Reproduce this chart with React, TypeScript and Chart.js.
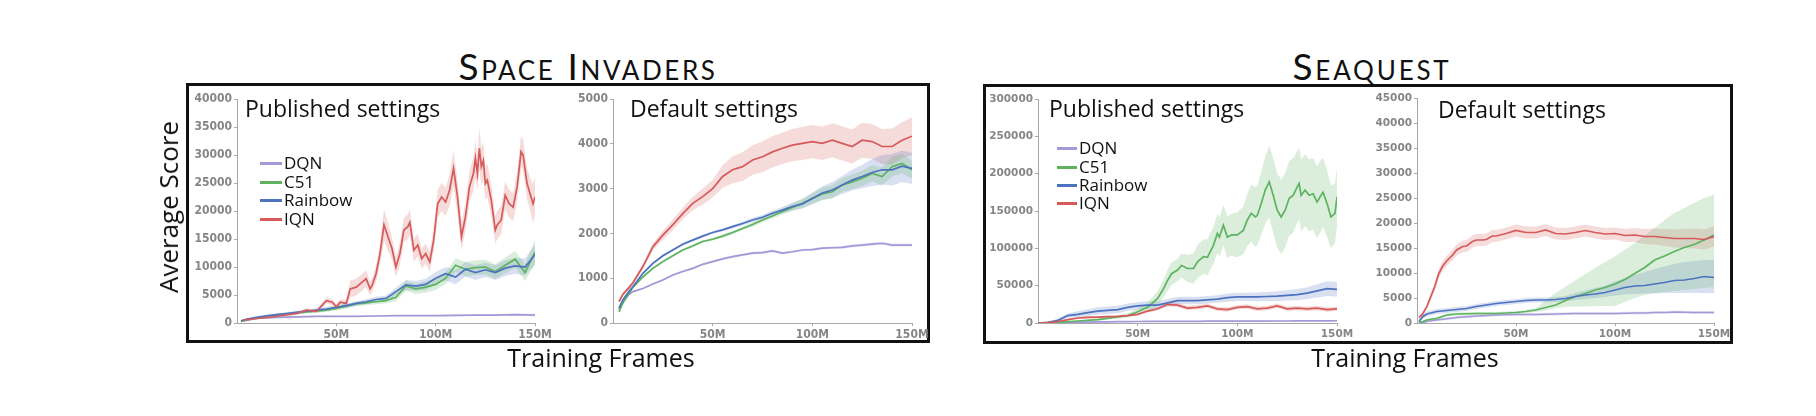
import React, { useEffect, useRef } from 'react';
import { Chart, registerables } from 'chart.js';

Chart.register(...registerables);

// ---------------- common ----------------
const SERIES_NAMES = ['DQN', 'C51', 'Rainbow', 'IQN'];
const SERIES_COLORS = ['#a498d8', '#5db35f', '#4c72c0', '#d65a5a'];
const X_TICKS = [50, 100, 150];
const X_TICK_LABELS = ['50M', '100M', '150M'];

// ---------------- Space Invaders, published settings ----------------
const P1_YTICKS = [0, 5000, 10000, 15000, 20000, 25000, 30000, 35000, 40000];
const P1_X_DQN = [2, 10, 20, 30, 40, 50, 60, 70, 80, 90, 100, 110, 120, 130, 140, 150];
const P1_DQN = [300, 800, 1000, 1100, 1200, 1200, 1200, 1250, 1300, 1300, 1300, 1350, 1400, 1400, 1500, 1400];
const P1_DQN_SD = [100, 150, 150, 150, 150, 150, 150, 150, 150, 150, 150, 150, 150, 150, 200, 200];
const P1_X = [2, 5, 10, 15, 20, 25, 30, 35, 40, 45, 50, 55, 60, 65, 70, 75, 80, 85, 90, 95, 100, 105, 110, 115, 120, 125, 130, 135, 140, 145, 150];
const P1_C51 = [300, 600, 900, 1200, 1400, 1600, 1800, 2000, 2100, 2300, 2600, 3000, 3400, 3600, 3800, 4000, 4600, 6600, 6100, 6400, 6900, 8000, 10300, 9600, 9900, 10000, 9200, 10300, 11400, 9000, 12700];
const P1_C51_SD = [100, 150, 200, 200, 250, 250, 300, 300, 300, 300, 350, 400, 400, 400, 450, 500, 700, 900, 900, 1000, 1000, 1100, 1200, 1300, 1300, 1300, 1300, 1400, 1500, 1500, 2200];
const P1_RAIN = [400, 700, 1000, 1300, 1500, 1700, 1900, 2100, 2300, 2500, 2800, 3100, 3500, 3800, 4200, 4400, 5600, 6800, 6600, 6900, 8000, 8800, 8200, 9600, 9000, 9500, 9000, 9800, 10200, 10000, 12200];
const P1_RAIN_SD = [100, 150, 200, 200, 250, 250, 300, 300, 300, 350, 350, 400, 400, 450, 500, 500, 700, 900, 900, 1000, 1100, 1200, 1300, 1300, 1300, 1300, 1300, 1400, 1400, 1500, 1800];
const P1_X_IQN = [3, 10, 20, 30, 35, 40, 45, 48, 50, 52, 55, 57, 60, 63, 65, 67, 68, 70, 72, 74, 76, 78, 80, 82, 84, 86, 87, 89, 91, 93, 95, 97, 99, 101, 103, 105, 107, 109, 111, 113, 115, 117, 119, 120, 121, 122, 123, 124, 125, 126, 128, 130, 131, 133, 135, 137, 139, 141, 143, 144, 146, 148, 149, 150];
const P1_IQN = [500, 800, 1200, 1700, 2300, 2100, 4000, 3700, 2900, 3700, 3500, 6100, 6400, 7300, 7900, 6100, 6700, 8800, 12400, 17500, 15400, 13300, 10000, 12400, 16600, 17200, 18000, 13000, 13900, 11500, 12400, 10900, 14800, 21300, 22500, 21600, 23700, 27600, 22500, 15400, 19000, 24300, 26700, 29400, 26700, 31200, 27900, 29000, 24900, 25500, 21900, 16600, 17500, 18400, 22800, 21300, 20700, 24300, 30600, 30000, 24900, 22500, 21300, 22500];
const P1_IQN_SD = [100, 150, 200, 250, 300, 300, 500, 500, 500, 500, 600, 1500, 1500, 1500, 1500, 1200, 1200, 1500, 2000, 2800, 2500, 2000, 1800, 2000, 2200, 2200, 2300, 2000, 2000, 1800, 1800, 1800, 2000, 2500, 2500, 2500, 2800, 3200, 3000, 2500, 2500, 2800, 3000, 3300, 3200, 3700, 3300, 3300, 3000, 3000, 2800, 2500, 2500, 2500, 2500, 2500, 2500, 2700, 2800, 2800, 2800, 3000, 3500, 3500];

// ---------------- Space Invaders, default settings ----------------
const P2_YTICKS = [0, 1000, 2000, 3000, 4000, 5000];
const P2_X = [3, 5, 8, 10, 15, 20, 25, 30, 35, 40, 45, 50, 55, 60, 65, 70, 75, 80, 85, 90, 95, 100, 105, 110, 115, 120, 125, 130, 135, 140, 145, 150];
const P2_DQN = [300, 480, 640, 700, 770, 870, 960, 1070, 1150, 1220, 1310, 1370, 1430, 1480, 1520, 1560, 1570, 1610, 1560, 1590, 1630, 1640, 1670, 1680, 1690, 1720, 1740, 1760, 1780, 1740, 1740, 1740];
const P2_DQN_SD = [25, 25, 25, 25, 25, 25, 25, 25, 25, 25, 25, 25, 30, 30, 30, 30, 30, 30, 30, 30, 30, 30, 30, 30, 30, 35, 35, 35, 35, 35, 35, 35];
const P2_C51 = [250, 450, 650, 800, 1030, 1220, 1370, 1500, 1630, 1720, 1820, 1870, 1940, 2020, 2110, 2200, 2300, 2390, 2490, 2580, 2670, 2780, 2880, 2930, 3080, 3150, 3230, 3340, 3270, 3490, 3560, 3420];
const P2_C51_SD = [30, 30, 30, 30, 30, 30, 30, 30, 30, 30, 30, 30, 40, 40, 40, 50, 50, 60, 70, 80, 100, 120, 140, 150, 150, 160, 170, 180, 200, 220, 220, 200];
const P2_RAIN = [330, 520, 700, 810, 1110, 1330, 1500, 1630, 1760, 1850, 1940, 2020, 2080, 2150, 2220, 2300, 2360, 2450, 2520, 2600, 2660, 2780, 2900, 2970, 3080, 3190, 3270, 3360, 3420, 3420, 3500, 3450];
const P2_RAIN_SD = [30, 30, 30, 30, 30, 30, 30, 30, 30, 30, 30, 30, 30, 40, 40, 50, 50, 60, 70, 90, 110, 130, 150, 180, 200, 230, 260, 300, 330, 350, 350, 350];
const P2_IQN = [480, 640, 790, 900, 1260, 1700, 1960, 2190, 2440, 2670, 2820, 3000, 3270, 3420, 3490, 3640, 3710, 3820, 3900, 3970, 4010, 4050, 4010, 4080, 4010, 3940, 4080, 4050, 3940, 3940, 4080, 4170];
const P2_IQN_SD = [40, 40, 40, 50, 60, 80, 100, 120, 130, 150, 180, 200, 250, 300, 320, 330, 340, 350, 350, 360, 370, 370, 370, 380, 380, 380, 390, 390, 390, 400, 400, 420];

// ---------------- Seaquest, published settings ----------------
const P3_YTICKS = [0, 50000, 100000, 150000, 200000, 250000, 300000];
const P3_X = [0, 5, 10, 15, 20, 25, 30, 35, 40, 45, 50, 55, 60, 65, 70, 75, 80, 85, 90, 95, 100, 105, 110, 115, 120, 125, 130, 135, 140, 145, 150];
const P3_DQN = [0, 400, 800, 1000, 1200, 1300, 1500, 1600, 1800, 1900, 2000, 2100, 2100, 2200, 2200, 2300, 2300, 2400, 2400, 2500, 2500, 2500, 2600, 2600, 2700, 2700, 2800, 2800, 2900, 2900, 3000];
const P3_DQN_SD = [0, 200, 300, 400, 400, 500, 500, 500, 500, 500, 500, 500, 500, 500, 500, 500, 500, 500, 500, 500, 500, 500, 500, 500, 500, 500, 500, 500, 500, 500, 500];
const P3_RAIN = [0, 1000, 3600, 10000, 11600, 14000, 16000, 17000, 18000, 21000, 23000, 24000, 24000, 27000, 30000, 30000, 30000, 31000, 32000, 34000, 35000, 35000, 35000, 35500, 36000, 37000, 38000, 40000, 43000, 46000, 45000];
const P3_RAIN_SD = [0, 800, 2000, 3000, 4000, 4500, 5000, 5000, 5000, 5000, 5000, 5000, 5000, 5000, 5000, 5000, 5000, 5000, 5000, 5500, 5500, 5500, 6000, 6000, 6500, 7000, 7500, 8000, 9000, 10000, 10000];
const P3_IQN = [0, 500, 2000, 4500, 6700, 7500, 8000, 8500, 9000, 10000, 11600, 16000, 19000, 25000, 24000, 20000, 21000, 23000, 19000, 18000, 21000, 22000, 19000, 20000, 23000, 19000, 20000, 19000, 20000, 18000, 19000];
const P3_IQN_SD = [0, 300, 800, 1000, 1500, 1500, 1500, 1500, 1500, 1500, 1500, 2000, 2500, 3000, 3000, 3000, 3000, 3000, 3000, 3000, 3000, 3000, 3000, 3000, 3000, 3000, 3000, 3000, 3000, 3000, 3000];
const P3_X_C51 = [0, 10, 20, 30, 40, 45, 50, 55, 60, 63, 65, 67, 70, 72, 75, 78, 80, 83, 85, 88, 90, 91, 93, 95, 97, 100, 103, 105, 107, 109, 110, 112, 114, 116, 118, 120, 122, 124, 126, 128, 130, 131, 132, 134, 136, 138, 140, 142, 143, 145, 147, 149, 150];
const P3_C51 = [0, 1000, 2700, 4500, 8000, 10000, 15000, 21000, 33000, 46000, 57000, 66000, 71000, 77000, 73000, 73000, 82000, 89000, 88000, 104000, 120000, 115000, 131000, 115000, 118000, 118000, 124000, 138000, 147000, 142000, 144000, 160000, 178000, 189000, 171000, 151000, 142000, 151000, 167000, 171000, 182000, 187000, 171000, 178000, 171000, 173000, 162000, 171000, 175000, 160000, 142000, 147000, 169000];
const P3_C51_SD = [0, 500, 1000, 1500, 2000, 3000, 4000, 6000, 10000, 12000, 14000, 15000, 15000, 16000, 18000, 20000, 22000, 23000, 24000, 25000, 26000, 26000, 27000, 28000, 28000, 30000, 32000, 35000, 38000, 40000, 40000, 42000, 45000, 48000, 50000, 50000, 50000, 50000, 50000, 50000, 48000, 48000, 48000, 48000, 48000, 48000, 48000, 48000, 46000, 45000, 42000, 40000, 40000];

// ---------------- Seaquest, default settings ----------------
const P4_YTICKS = [0, 5000, 10000, 15000, 20000, 25000, 30000, 35000, 40000, 45000];
const P4_X = [1, 3, 5, 8, 10, 15, 20, 25, 30, 35, 40, 45, 50, 55, 60, 65, 70, 75, 80, 85, 90, 95, 100, 105, 110, 115, 120, 125, 130, 135, 140, 145, 150];
const P4_DQN = [0, 100, 300, 500, 600, 850, 1100, 1250, 1400, 1500, 1600, 1650, 1700, 1700, 1700, 1750, 1800, 1850, 1900, 1900, 1900, 1900, 1900, 1950, 2000, 2000, 2100, 2100, 2200, 2150, 2100, 2100, 2100];
const P4_DQN_SD = [50, 100, 150, 200, 250, 300, 300, 300, 300, 300, 300, 300, 300, 300, 300, 300, 300, 300, 300, 300, 300, 300, 300, 300, 300, 300, 300, 300, 300, 300, 300, 300, 300];
const P4_C51 = [70, 300, 600, 800, 900, 1600, 1800, 1850, 1900, 1900, 1900, 2000, 2100, 2300, 2600, 3100, 3600, 4500, 5300, 5900, 6600, 7100, 7800, 8700, 9900, 11100, 12600, 13400, 14300, 15100, 15700, 16600, 17600];
const P4_C51_LO = [0, 100, 300, 500, 600, 1300, 1500, 1550, 1600, 1600, 1600, 1700, 1800, 2000, 2200, 2500, 3000, 3200, 3300, 3300, 3400, 3400, 3400, 4200, 5000, 5600, 6000, 6200, 6400, 6600, 6800, 7000, 7200];
const P4_C51_HI = [150, 500, 900, 1100, 1200, 1900, 2100, 2150, 2200, 2200, 2200, 2300, 2400, 2600, 3000, 4500, 6000, 7300, 8500, 9800, 11000, 12200, 13300, 14700, 16000, 17500, 19000, 20600, 22000, 23000, 24000, 25000, 25700];
const P4_RAIN = [300, 1300, 1800, 2100, 2300, 2500, 2700, 2900, 3300, 3600, 3900, 4100, 4300, 4500, 4600, 4600, 4700, 4900, 5300, 5600, 5800, 6100, 6600, 7100, 7400, 7500, 7800, 8100, 8500, 8600, 8900, 9300, 9100];
const P4_RAIN_LO = [0, 900, 1300, 1600, 1800, 2000, 2200, 2400, 2800, 3100, 3400, 3600, 3800, 4000, 4100, 4100, 4200, 4400, 4600, 4800, 5000, 5200, 5500, 5700, 5800, 5900, 5900, 6000, 6000, 6000, 6000, 6000, 6000];
const P4_RAIN_HI = [600, 1700, 2300, 2600, 2800, 3000, 3200, 3400, 3800, 4100, 4400, 4600, 4800, 5000, 5100, 5100, 5200, 5400, 6000, 6500, 7000, 7500, 8300, 9000, 9600, 10200, 10800, 11300, 11800, 12200, 12400, 12600, 12600];
const P4_X_IQN = [1, 3, 5, 7, 9, 11, 13, 15, 18, 20, 23, 25, 28, 30, 33, 35, 38, 40, 45, 50, 55, 60, 65, 70, 75, 80, 85, 90, 95, 100, 105, 110, 115, 120, 125, 130, 135, 140, 145, 150];
const P4_IQN = [1100, 1900, 3300, 5300, 7300, 9900, 11400, 12400, 13600, 14600, 15300, 15400, 16300, 16600, 16600, 16700, 17400, 17400, 17900, 18500, 18100, 18100, 18600, 17900, 17800, 18100, 18500, 18100, 17800, 17900, 17500, 17600, 17300, 17300, 17100, 16900, 16900, 16900, 16700, 17300];
const P4_IQN_SD = [300, 400, 500, 700, 800, 900, 1000, 1000, 1100, 1100, 1200, 1200, 1200, 1200, 1200, 1200, 1200, 1200, 1200, 1200, 1200, 1200, 1200, 1200, 1200, 1200, 1200, 1200, 1200, 1200, 1300, 1400, 1500, 1600, 1700, 1800, 1900, 2000, 2000, 2000];

// ---------------- helpers ----------------
type Series = { color: string; x: number[]; y: number[]; lo: number[]; hi: number[] };

const mk = (k: number, x: number[], y: number[], sd: number[]): Series => ({
  color: SERIES_COLORS[k],
  x,
  y,
  lo: y.map((v, i) => Math.max(0, v - sd[i])),
  hi: y.map((v, i) => v + sd[i]),
});
const mkLH = (k: number, x: number[], y: number[], lo: number[], hi: number[]): Series => ({
  color: SERIES_COLORS[k], x, y, lo, hi,
});

function alpha(hex: string, a: number) {
  const r = parseInt(hex.slice(1, 3), 16);
  const g = parseInt(hex.slice(3, 5), 16);
  const b = parseInt(hex.slice(5, 7), 16);
  return `rgba(${r},${g},${b},${a})`;
}

const PADL = 56;
const PADT = 10;
const PADR = 24;
const PADB = 24;

type PanelCfg = {
  left: number; right: number; top: number; bottom: number;
  yMax: number; yTicks: number[]; series: Series[];
  font: { family: string; size: number; weight: any };
};

const NARROW = { family: "'Liberation Sans Narrow', 'DejaVu Sans Condensed', sans-serif", size: 12, weight: 'bold' };
const WIDE = { family: "'DejaVu Sans', sans-serif", size: 10.5, weight: 'bold' };

const PANELS: PanelCfg[] = [
  {
    left: 237, right: 535, top: 99, bottom: 323, yMax: 40000, yTicks: P1_YTICKS, font: NARROW,
    series: [
      mk(0, P1_X_DQN, P1_DQN, P1_DQN_SD),
      mk(1, P1_X, P1_C51, P1_C51_SD),
      mk(2, P1_X, P1_RAIN, P1_RAIN_SD),
      mk(3, P1_X_IQN, P1_IQN, P1_IQN_SD),
    ],
  },
  {
    left: 613, right: 912, top: 99, bottom: 323, yMax: 5000, yTicks: P2_YTICKS, font: NARROW,
    series: [
      mk(0, P2_X, P2_DQN, P2_DQN_SD),
      mk(1, P2_X, P2_C51, P2_C51_SD),
      mk(2, P2_X, P2_RAIN, P2_RAIN_SD),
      mk(3, P2_X, P2_IQN, P2_IQN_SD),
    ],
  },
  {
    left: 1038, right: 1337, top: 99, bottom: 323, yMax: 300000, yTicks: P3_YTICKS, font: WIDE,
    series: [
      mk(0, P3_X, P3_DQN, P3_DQN_SD),
      mk(1, P3_X_C51, P3_C51, P3_C51_SD),
      mk(2, P3_X, P3_RAIN, P3_RAIN_SD),
      mk(3, P3_X, P3_IQN, P3_IQN_SD),
    ],
  },
  {
    left: 1417, right: 1714, top: 98, bottom: 323, yMax: 45000, yTicks: P4_YTICKS, font: WIDE,
    series: [
      mk(0, P4_X, P4_DQN, P4_DQN_SD),
      mkLH(1, P4_X, P4_C51, P4_C51_LO, P4_C51_HI),
      mkLH(2, P4_X, P4_RAIN, P4_RAIN_LO, P4_RAIN_HI),
      mk(3, P4_X_IQN, P4_IQN, P4_IQN_SD),
    ],
  },
];

function Panel({ cfg }: { cfg: PanelCfg }) {
  const ref = useRef<HTMLCanvasElement>(null);
  const w = cfg.right - cfg.left + PADL + PADR;
  const h = cfg.bottom - cfg.top + PADT + PADB;

  useEffect(() => {
    const ds: any[] = [];
    const ser = cfg.series;
    for (let k = ser.length - 1; k >= 0; k--) {
      const s = ser[k];
      ds.push({
        data: s.x.map((x, i) => ({ x, y: s.y[i] })),
        borderColor: s.color, borderWidth: 1.7, pointRadius: 0, fill: false,
        tension: 0, order: 0,
      });
    }
    for (const s of ser) {
      const loIdx = ds.length;
      ds.push({
        data: s.x.map((x, i) => ({ x, y: s.lo[i] })),
        borderWidth: 0, borderColor: 'rgba(0,0,0,0)', pointRadius: 0, fill: false, order: 1,
      });
      ds.push({
        data: s.x.map((x, i) => ({ x, y: s.hi[i] })),
        borderWidth: 0, borderColor: 'rgba(0,0,0,0)', pointRadius: 0,
        fill: loIdx, backgroundColor: alpha(s.color, 0.22), order: 1,
      });
    }
    const tickColor = '#858585';
    const axisColor = '#a8a8a8';
    const chart = new Chart(ref.current as HTMLCanvasElement, {
      type: 'line',
      data: { datasets: ds },
      options: {
        responsive: false,
        animation: false,
        devicePixelRatio: 1,
        events: [],
        layout: { padding: { left: 0, top: PADT, right: PADR, bottom: 0 } },
        plugins: { legend: { display: false }, tooltip: { enabled: false }, title: { display: false } },
        scales: {
          x: {
            type: 'linear', min: 0, max: 150,
            afterBuildTicks: (a: any) => { a.ticks = X_TICKS.map((v) => ({ value: v })); },
            afterFit: (a: any) => { a.height = PADB; },
            ticks: {
              autoSkip: false, maxRotation: 0, padding: 2, color: tickColor, font: cfg.font as any,
              callback: (v: any) => X_TICK_LABELS[X_TICKS.indexOf(Number(v))] ?? '',
            },
            grid: { drawOnChartArea: false, drawTicks: true, tickLength: 3, color: axisColor },
            border: { display: true, color: axisColor, width: 1 },
          },
          y: {
            type: 'linear', min: 0, max: cfg.yMax,
            afterBuildTicks: (a: any) => { a.ticks = cfg.yTicks.map((v) => ({ value: v })); },
            afterFit: (a: any) => { a.width = PADL; },
            ticks: {
              autoSkip: false, padding: 2, color: tickColor, font: cfg.font as any,
              callback: (v: any) => String(v),
            },
            grid: { drawOnChartArea: false, drawTicks: true, tickLength: 3, color: axisColor },
            border: { display: true, color: axisColor, width: 1 },
          },
        },
      } as any,
    });
    return () => chart.destroy();
  }, []);

  return (
    <canvas
      ref={ref}
      width={w}
      height={h}
      style={{ position: 'absolute', left: cfg.left - PADL, top: cfg.top - PADT, width: w, height: h }}
    />
  );
}

const SANS = "'Open Sans', 'Noto Sans', sans-serif";

function Text({ x, top, size, children, center, style }: any) {
  return (
    <div
      style={{
        position: 'absolute', left: x, top, fontFamily: SANS, fontSize: size, lineHeight: `${size}px`,
        color: '#111', whiteSpace: 'nowrap', transform: center ? 'translateX(-50%)' : undefined, ...style,
      }}
    >
      {children}
    </div>
  );
}

function Legend({ x, rows, lineW }: { x: number; rows: number[]; lineW: number }) {
  return (
    <>
      {SERIES_NAMES.map((n, i) => (
        <div key={n} style={{ position: 'absolute', left: x, top: rows[i] - 10, height: 20, display: 'flex', alignItems: 'center' }}>
          <div style={{ width: lineW, height: 3, background: SERIES_COLORS[i], marginRight: 2 }} />
          <span style={{ fontFamily: SANS, fontSize: 17, lineHeight: '20px', color: '#111' }}>{n}</span>
        </div>
      ))}
    </>
  );
}

function Title({ cx, children, spacing }: any) {
  return (
    <div
      style={{
        position: 'absolute', left: cx, top: 47, transform: 'translateX(-50%)',
        fontFamily: "Lato, 'Open Sans', sans-serif", fontSize: 37, lineHeight: '37px',
        fontVariant: 'small-caps', letterSpacing: spacing, color: '#111', whiteSpace: 'nowrap',
      }}
    >
      {children}
    </div>
  );
}

export default function App() {
  return (
    <div style={{ position: 'absolute', left: 0, top: 0, width: 1816, height: 416, background: '#fff', overflow: 'hidden' }}>
      <Title cx={588} spacing="2.6px">Space Invaders</Title>
      <Title cx={1372} spacing="2.8px">Seaquest</Title>

      <div style={{ position: 'absolute', left: 186, top: 83, width: 744, height: 260, border: '3px solid #111', boxSizing: 'border-box' }} />
      <div style={{ position: 'absolute', left: 983, top: 84, width: 750, height: 260, border: '3px solid #111', boxSizing: 'border-box' }} />

      {PANELS.map((p, i) => (
        <Panel key={i} cfg={p} />
      ))}

      <Text x={245} top={97} size={23}>Published settings</Text>
      <Text x={630} top={97} size={23}>Default settings</Text>
      <Text x={1049} top={97} size={23}>Published settings</Text>
      <Text x={1438} top={98} size={23}>Default settings</Text>

      <Legend x={260} rows={[163, 182, 200, 219]} lineW={22} />
      <Legend x={1057} rows={[148, 167, 185, 203]} lineW={20} />

      <div
        style={{
          position: 'absolute', left: 168, top: 207, transform: 'translate(-50%, -50%) rotate(-90deg)',
          fontFamily: SANS, fontSize: 26, lineHeight: '26px', color: '#111', whiteSpace: 'nowrap',
        }}
      >
        Average Score
      </div>

      <Text x={601} top={345} size={25} center>Training Frames</Text>
      <Text x={1405} top={345} size={25} center>Training Frames</Text>
    </div>
  );
}
